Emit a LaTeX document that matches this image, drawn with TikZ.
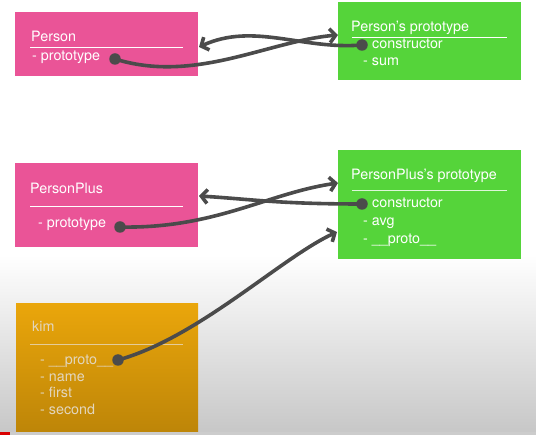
\documentclass[tikz,border=0pt]{standalone}
\usepackage{fontspec}
\setmainfont{TeX Gyre Heros}
\usetikzlibrary{arrows.meta}
\definecolor{pinkbox}{HTML}{EA5497}
\definecolor{greenbox}{HTML}{55D43A}
\definecolor{kimtop}{HTML}{EAA60B}
\definecolor{kimbot}{HTML}{BD8508}
\definecolor{conncol}{HTML}{4B4B4B}
\definecolor{kimtext}{HTML}{E2D6BE}
\tikzset{
  box/.style={draw=none, inner sep=0pt, anchor=north west},
  lbl/.style={anchor=base west, inner sep=0pt, text=white, font=\fontsize{14.3}{16}\selectfont},
  kimlbl/.style={lbl, text=kimtext},
  sep/.style={draw=white, line width=0.9pt},
  dotnode/.style={circle, fill=conncol, inner sep=0pt, minimum size=11.5pt},
  conn/.style={draw=conncol, line width=3.6pt, line cap=round, -{Straight Barb[length=6pt,width=14pt]}},
}
\begin{document}
\begin{tikzpicture}[x=1pt,y=-1pt]
\useasboundingbox (0,0) rectangle (536,435);
% background
\fill[white] (0,0) rectangle (536,255);
\shade[top color=white, bottom color=black!22] (0,255) rectangle (536,433);

% boxes
\node[box, fill=pinkbox, minimum width=183pt, minimum height=64pt] (person) at (15,12) {};
\node[box, fill=greenbox, minimum width=183pt, minimum height=78pt] (pproto) at (338,2) {};
\node[box, fill=pinkbox, minimum width=183pt, minimum height=84pt] (pplus) at (15,163) {};
\node[box, fill=greenbox, minimum width=183pt, minimum height=109pt] (ppproto) at (338,150) {};
\node[box, top color=kimtop, bottom color=kimbot, minimum width=182pt, minimum height=130pt] (kim) at (16,303) {};
\fill[black!20] (0,432) rectangle (536,435);
\fill[red!85!black] (0,432) rectangle (10,435);

% Person
\node[lbl] (t1) at (31,42) {Person};
\draw[sep] (30,47.5) -- (183,47.5);
\node[lbl] (t2) at (32,61) {- prototype};

% Person's prototype
\node[lbl] (t3) at (351,32) {Person’s prototype};
\draw[sep] (352,37) -- (507,37);
\node[lbl] (t4) at (372,49) {constructor};
\node[lbl] (t5) at (363,66) {- sum};

% PersonPlus
\node[lbl] (t6) at (30,194) {PersonPlus};
\draw[sep] (30,206) -- (183,206);
\node[lbl] (t7) at (38,228) {- prototype};

% PersonPlus's prototype
\node[lbl] (t8) at (351,180) {PersonPlus’s prototype};
\draw[sep, draw=white!80!greenbox] (352,190) -- (507,190);
\node[lbl] (t9) at (372,208) {constructor};
\node[lbl] (t10) at (363,226) {- avg};
\node[lbl] (t11) at (363,244) {- \_\_proto\_\_};

% kim
\node[kimlbl] (t12) at (32,332) {kim};
\draw[sep, draw=kimtext!80!kimtop] (30,344.5) -- (183,344.5);
\node[kimlbl] (t13) at (40,365) {- \_\_proto\_\_};
\node[kimlbl] (t14) at (40,382) {- name};
\node[kimlbl] (t15) at (40,398) {- first};
\node[kimlbl] (t16) at (40,415) {- second};

% dots and targets
\node[dotnode] (d1) at (115,59) {};
\node[dotnode] (d2) at (362,45) {};
\node[dotnode] (d3) at (120,227) {};
\node[dotnode] (d4) at (362,204) {};
\node[dotnode] (d5) at (118,360) {};
\coordinate (a1) at (338,35);
\coordinate (a2) at (199,47);
\coordinate (a3) at (338,183);
\coordinate (a4) at (199,196);
\coordinate (a5) at (337,232);

% connectors
\draw[conn] (d1.center) .. controls +(80,25) and +(-70,6) .. (a1);
\draw[conn] (d2.center) .. controls +(-60,5) and +(55,-25) .. (a2);
\draw[conn] (d3.center) .. controls +(95,2) and +(-70,10) .. (a3);
\draw[conn] (d4.center) .. controls +(-85,0) and +(50,3) .. (a4);
\draw[conn] (d5.center) .. controls +(80,-22) and +(-55,25) .. (a5);
\end{tikzpicture}
\end{document}
